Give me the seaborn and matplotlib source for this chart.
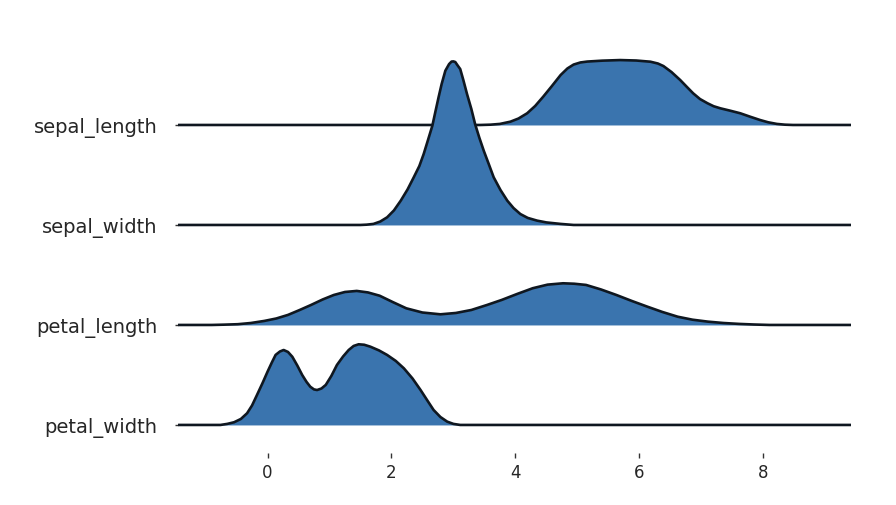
import numpy as np
import pandas as pd
import matplotlib
matplotlib.use("Agg")
import matplotlib.pyplot as plt
import seaborn as sns

sns.set_theme(style="white")
plt.rcParams['font.family'] = ['DejaVu Sans']

# variables, top to bottom
variables = ['sepal_length', 'sepal_width', 'petal_length', 'petal_width']

# density curves (x in cm, y = density)
sepal_length_x = [-1.44, 3.44, 3.60, 3.75, 3.92, 4.05, 4.19, 4.32, 4.45, 4.59, 4.73, 4.84,
                  4.94, 5.05, 5.16, 5.40, 5.69, 5.95, 6.18, 6.30, 6.39, 6.52, 6.66, 6.77,
                  6.87, 6.98, 7.10, 7.20, 7.31, 7.47, 7.63, 7.79, 7.95, 8.08, 8.22, 8.35,
                  8.48, 9.42]
sepal_length_y = [0, 0, 0.002, 0.007, 0.022, 0.043, 0.078, 0.127, 0.189, 0.260, 0.333, 0.377,
                  0.403, 0.417, 0.423, 0.429, 0.433, 0.430, 0.422, 0.410, 0.393, 0.353, 0.300, 0.253,
                  0.211, 0.173, 0.145, 0.125, 0.111, 0.095, 0.078, 0.055, 0.033, 0.018, 0.007, 0.002,
                  0, 0]

sepal_width_x = [-1.44, 1.50, 1.60, 1.71, 1.82, 1.93, 2.04, 2.15, 2.26, 2.36, 2.45,
                 2.52, 2.59, 2.66, 2.71, 2.76, 2.81, 2.87, 2.93, 2.97, 3.00,
                 3.03, 3.07, 3.11, 3.16, 3.22, 3.29, 3.35, 3.42, 3.49, 3.57,
                 3.65, 3.76, 3.87, 3.97, 4.08, 4.20, 4.35, 4.50, 4.73, 4.94, 9.42]
sepal_width_y = [0, 0, 0.002, 0.007, 0.023, 0.051, 0.097, 0.162, 0.237, 0.318, 0.393,
                 0.473, 0.567, 0.662, 0.757, 0.851, 0.940, 1.029, 1.073, 1.090, 1.091,
                 1.087, 1.063, 1.040, 0.967, 0.873, 0.773, 0.673, 0.580, 0.495, 0.407,
                 0.318, 0.233, 0.162, 0.113, 0.073, 0.047, 0.029, 0.017, 0.007, 0, 0]

petal_length_x = [-1.44, -0.90, -0.70, -0.48, -0.27, -0.05, 0.14, 0.33, 0.52, 0.70, 0.89,
                  1.07, 1.25, 1.44, 1.62, 1.81, 2.02, 2.24, 2.50, 2.79, 3.04,
                  3.29, 3.54, 3.78, 4.03, 4.28, 4.52, 4.77, 4.95, 5.14, 5.38,
                  5.63, 5.88, 6.13, 6.37, 6.62, 6.86, 7.11, 7.36, 7.61, 7.85, 8.10, 9.42]
petal_length_y = [0, 0, 0.002, 0.005, 0.013, 0.027, 0.043, 0.067, 0.100, 0.133, 0.170,
                  0.200, 0.220, 0.227, 0.217, 0.195, 0.153, 0.111, 0.083, 0.071, 0.080,
                  0.100, 0.133, 0.167, 0.207, 0.245, 0.269, 0.278, 0.275, 0.267, 0.237,
                  0.200, 0.160, 0.122, 0.087, 0.055, 0.035, 0.022, 0.013, 0.007, 0.003, 0, 0]

petal_width_x = [-1.44, -0.76, -0.65, -0.54, -0.43, -0.33, -0.25, -0.17, -0.08, 0.00, 0.07,
                 0.13, 0.20, 0.26, 0.33, 0.40, 0.48, 0.56, 0.63, 0.69, 0.75,
                 0.80, 0.87, 0.94, 1.03, 1.12, 1.22, 1.31, 1.39, 1.47, 1.56,
                 1.66, 1.80, 1.93, 2.07, 2.20, 2.34, 2.47, 2.58, 2.68, 2.79,
                 2.90, 3.00, 3.11, 9.42]
petal_width_y = [0, 0, 0.007, 0.018, 0.040, 0.078, 0.130, 0.200, 0.280, 0.355, 0.417,
                 0.467, 0.490, 0.500, 0.487, 0.455, 0.397, 0.333, 0.287, 0.255, 0.237,
                 0.233, 0.243, 0.267, 0.327, 0.400, 0.457, 0.500, 0.527, 0.538, 0.535,
                 0.522, 0.497, 0.467, 0.427, 0.378, 0.310, 0.233, 0.163, 0.100, 0.053,
                 0.022, 0.007, 0, 0]

xticks = [0, 2, 4, 6, 8]

curves = {
    'sepal_length': (sepal_length_x, sepal_length_y),
    'sepal_width': (sepal_width_x, sepal_width_y),
    'petal_length': (petal_length_x, petal_length_y),
    'petal_width': (petal_width_x, petal_width_y),
}

fill_color = '#3a74ae'
line_color = '#0f1720'
row_gap = 0.667

fig = plt.figure(figsize=(8.96, 5.06), dpi=100)
ax = fig.add_axes([0.199, 0.1028, 0.751, 0.818])

offsets = []
for i, name in enumerate(variables):
    off = -i * row_gap
    offsets.append(off)
    xs, ys = curves[name]
    df = pd.DataFrame({'x': xs, 'y': np.array(ys) + off})
    z = 2 + i * 2
    ax.fill_between(df['x'], off, df['y'], color=fill_color, lw=0, zorder=z)
    sns.lineplot(data=df, x='x', y='y', ax=ax, color=line_color, lw=1.9,
                 sort=False, zorder=z + 1, solid_joinstyle='round')

ax.set_xlim(-1.44, 9.42)
ax.set_ylim(-3 * row_gap - 0.187, 0.573)
ax.set_yticks(offsets)
ax.set_yticklabels(variables)
ax.set_xticks(xticks)
ax.set_xticklabels([str(t) for t in xticks])
ax.set_xlabel('')
ax.set_ylabel('')
ax.tick_params(axis='y', length=2, width=1, color='#333333', labelsize=14,
               labelcolor='#262626', pad=13, left=True)
ax.tick_params(axis='x', length=3.5, width=1, color='#333333', labelsize=12,
               labelcolor='#262626', bottom=True)
for s in ax.spines.values():
    s.set_visible(False)
ax.grid(False)

plt.savefig('out.png', dpi=100)
